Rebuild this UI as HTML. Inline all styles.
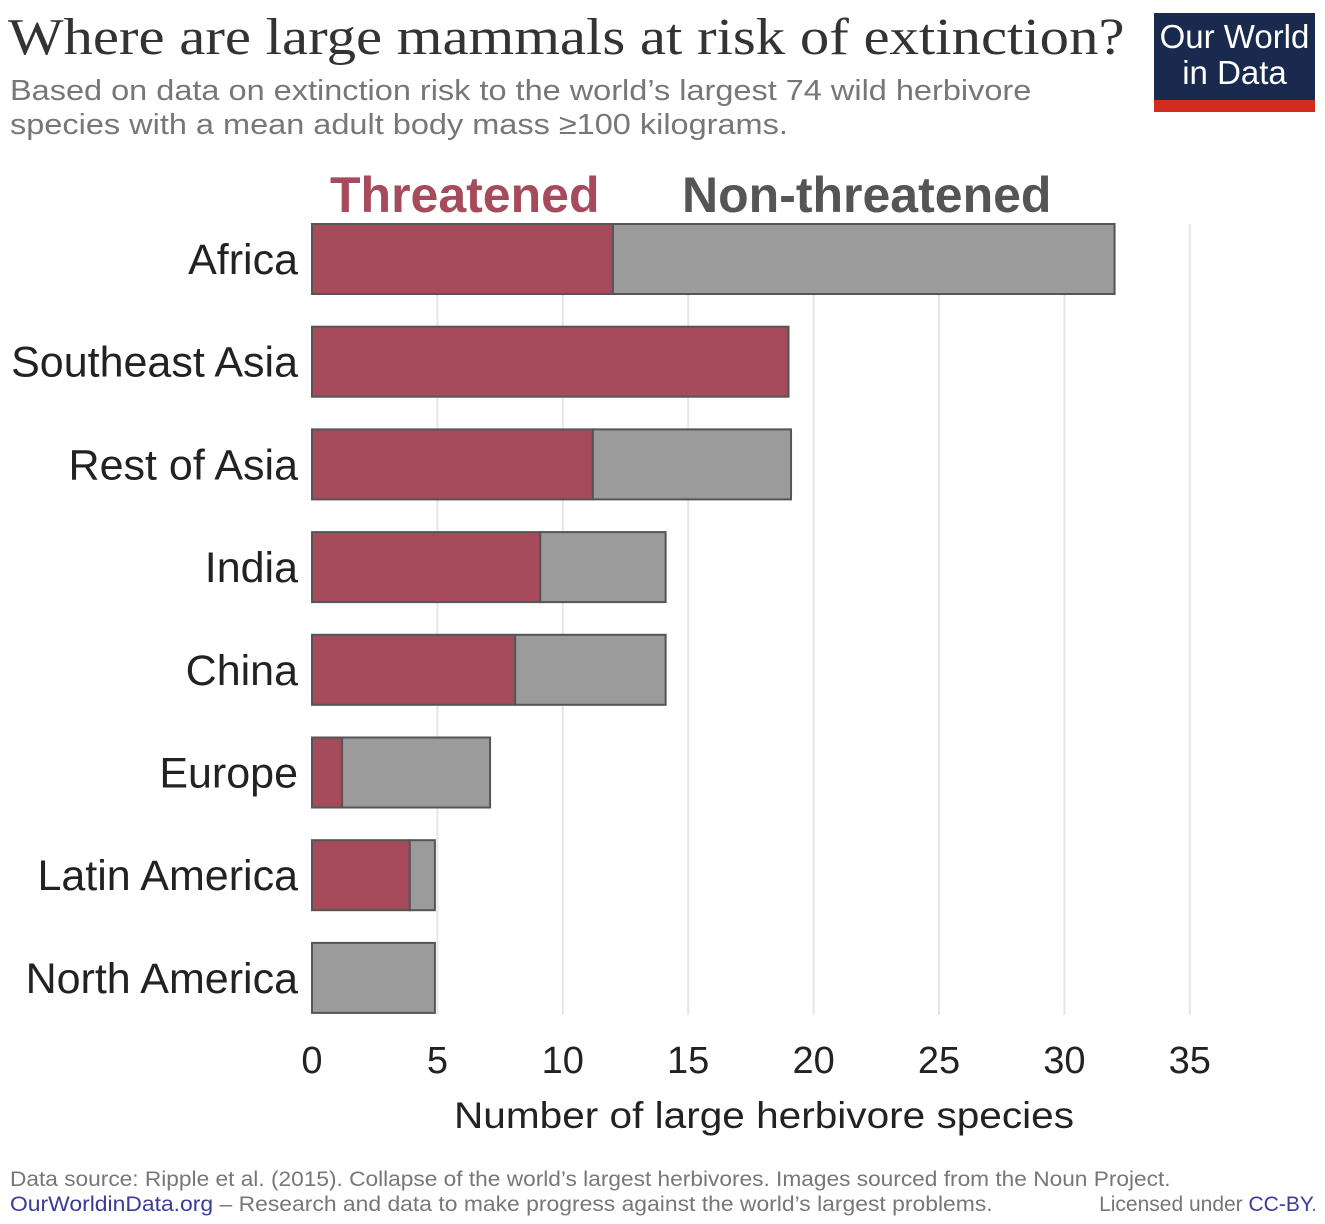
<!DOCTYPE html>
<html><head><meta charset="utf-8"><style>
body{margin:0;background:#fff;font-family:"Liberation Sans",sans-serif;}
#wrap{position:relative;width:1325px;height:1224px;overflow:hidden;}
.t{position:absolute;white-space:nowrap;transform-origin:0 0;}
</style></head><body>
<div id="wrap">
<div class="t" style="left:8px;top:8px;font-family:'Liberation Serif',serif;font-size:52px;color:#333;transform:scaleX(1.13);">Where are large mammals at risk of extinction?</div>
<div class="t" style="left:10px;top:74px;font-size:29px;line-height:34px;color:#777;transform:scaleX(1.12);">Based on data on extinction risk to the world’s largest 74 wild herbivore<br>species with a mean adult body mass ≥100 kilograms.</div>
<div style="position:absolute;left:1154px;top:13px;width:161px;height:99px;background:#1a2a4e;border-bottom:12px solid #d42b21;box-sizing:border-box;color:#fff;font-size:33px;line-height:36px;text-align:center;padding-top:6px;">Our World<br>in Data</div>
<svg id="chart" width="1325" height="1224" style="position:absolute;left:0;top:0"></svg>
<div class="t" style="left:10px;top:1168px;font-size:21px;color:#777;transform:scaleX(1.08);">Data source: Ripple et al. (2015). Collapse of the world’s largest herbivores. Images sourced from the Noun Project.</div>
<div class="t" style="left:10px;top:1193px;font-size:21px;color:#777;transform:scaleX(1.09);"><span style="color:#3b3b9a">OurWorldinData.org</span> – Research and data to make progress against the world’s largest problems.</div>
<div class="t" style="right:8px;top:1193px;font-size:21px;color:#777;">Licensed under <span style="color:#3b3b9a">CC-BY</span>.</div>
</div>
<script>
const categories=["Africa","Southeast Asia","Rest of Asia","India","China","Europe","Latin America","North America"];
const threatened=[12,19,11.2,9.1,8.1,1.2,3.9,0];
const nonThreatened=[20,0,7.9,5,6,5.9,1,4.9];
const ticks=[0,5,10,15,20,25,30,35];
const NS="http://www.w3.org/2000/svg";
const svg=document.getElementById('chart');
const x0=312,pxPer=25.08;
const xs=v=>x0+v*pxPer;
const yc=i=>259+i*102.7;
const bh=70;
function mk(tag,attrs,txt){const e=document.createElementNS(NS,tag);for(const k in attrs)e.setAttribute(k,attrs[k]);if(txt!==undefined)e.textContent=txt;svg.appendChild(e);return e;}
ticks.forEach(t=>{
  if(t>0){const g=mk('line',{x1:xs(t),x2:xs(t),y1:224,y2:1015,stroke:'#e6e6e6','stroke-width':2});
  
  }
  const l=mk('text',{x:xs(t),y:1073,'text-anchor':'middle','font-size':38,fill:'#222','font-family':'Liberation Sans, sans-serif'},t);
  
  
});
categories.forEach((c,i)=>{
  const y=yc(i)-bh/2;
  if(threatened[i]>0){const r=mk('rect',{x:xs(0),y:y,width:threatened[i]*pxPer,height:bh,fill:'#a64b5c',stroke:'#555','stroke-width':2});
  
  }
  if(nonThreatened[i]>0){const r=mk('rect',{x:xs(threatened[i]),y:y,width:nonThreatened[i]*pxPer,height:bh,fill:'#9b9b9b',stroke:'#555','stroke-width':2});
  
  }
  const l=mk('text',{x:298,y:yc(i)+15,'text-anchor':'end','font-size':43,fill:'#222','font-family':'Liberation Sans, sans-serif'},c);
  
  
});
const a=mk('text',{x:454,y:1128,'font-size':37,fill:'#222','font-family':'Liberation Sans, sans-serif',textLength:620,lengthAdjust:'spacingAndGlyphs'},'Number of large herbivore species');


const l1=mk('text',{x:330,y:212,'font-size':50,'font-weight':'bold',fill:'#a64b5c','font-family':'Liberation Sans, sans-serif'},'Threatened');


const l2=mk('text',{x:682,y:212,'font-size':50,'font-weight':'bold',fill:'#555','font-family':'Liberation Sans, sans-serif'},'Non-threatened');


</script>
</body></html>
